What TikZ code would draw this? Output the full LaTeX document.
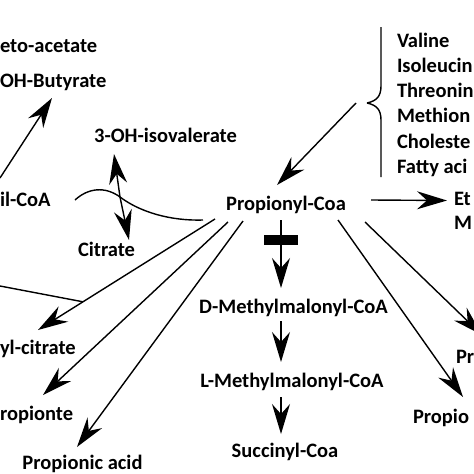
\documentclass[tikz,border=0pt]{standalone}
\usepackage{fontspec}
\setmainfont{Carlito}
\usetikzlibrary{arrows.meta}

\begin{document}
\begin{tikzpicture}[x=1pt,y=-1pt,>={Stealth[length=30pt,width=18pt,inset=10pt]},line join=bevel,line width=1.4pt,
  metab/.style={anchor=base west,inner sep=0pt,outer sep=0pt,text height=13pt,text depth=4pt,font=\bfseries\fontsize{20.5}{23}\selectfont},
  inhib/.style={fill=black,inner sep=0pt,minimum width=34pt,minimum height=10pt}]
%%
\useasboundingbox (0,0) rectangle (474,474);
\clip (0,0) rectangle (474,474);
\node (aceto) at (0,52) [metab] {eto-acetate};
  \node (ohbut) at (0,87) [metab] {OH-Butyrate};
  \node (ohiso) at (165.5,142) [metab,anchor=base] {3-OH-isovalerate};
  \node (acoa) at (0,206) [metab] {il-CoA};
  \node (citr) at (106.5,256) [metab,anchor=base] {Citrate};
  \node (prop) at (286,210) [metab,anchor=base] {Propionyl-Coa};
  \node (dmm) at (293.5,313) [metab,anchor=base] {D-Methylmalonyl-CoA};
  \node (lmm) at (292,387) [metab,anchor=base] {L-Methylmalonyl-CoA};
  \node (succ) at (285,457) [metab,anchor=base] {Succinyl-Coa};
  \node (pcit) at (0,354) [metab] {yl-citrate};
  \node (pnte) at (0,420) [metab] {ropionte};
  \node (pacid) at (82.5,469) [metab,anchor=base] {Propionic acid};
  \node (val) at (397,47) [metab] {Valine};
  \node (ile) at (397,72) [metab] {Isoleucin};
  \node (thr) at (397,97) [metab] {Threonin};
  \node (met) at (397,122) [metab] {Methion};
  \node (chol) at (397,148) [metab] {Choleste};
  \node (fat) at (397,173) [metab] {Fatty aci};
  \node (eth) at (454,205) [metab] {Et};
  \node (mal) at (454,229) [metab] {M};
  \node (pr) at (456,363) [metab] {Pr};
  \node (propio) at (413,423) [metab] {Propio};
  \node (stop) at (281,240) [inhib] {};
  \coordinate (acoa_in) at (0,178);
  \coordinate (cin) at (75,200);
  \coordinate (jn) at (120,197);
  \coordinate (cout) at (203,220);
  \coordinate (brc) at (367,103);
  \coordinate (lft) at (0,286);
%
  \draw [->] (acoa_in) -- ([shift={(52,7)}]ohbut.south west);
  \draw (cin) .. controls (88,188) and (105,186) .. (jn) .. controls (140,212) and (170,221) .. (cout);
  \draw [->] (jn) -- ([shift={(-51.5,8)}]ohiso.south);
  \draw [->] (jn) -- ([shift={(22.5,-3)}]citr.north);
  \draw (381,27) -- (381,86) .. controls (381,97) and (376,101) .. (brc) .. controls (376,105) and (381,109) .. (381,120) -- (381,177);
  \draw [->] ([shift={(-11,0)}]brc) -- ([shift={(-9,-12)}]prop.north);
  \draw [->] ([shift={(85,-10)}]prop.base) -- ([shift={(-7,0)}]eth.west);
  \draw [->] ([shift={(-71,5)}]prop.south) -- ([shift={(38,-11)}]pcit.north west) coordinate [pos=0.746] (mix);
  \draw (lft) -- (mix);
  \draw [->] ([shift={(-58,8)}]prop.south) -- ([shift={(43,-12)}]pnte.north west);
  \draw [->] ([shift={(-43,7)}]prop.south) -- ([shift={(-5.5,-9)}]pacid.north);
  \draw [->,shorten <=6pt,shorten >=12pt] (stop |- prop.south) -- (stop |- dmm.north);
  \draw [->,shorten <=4pt,shorten >=12pt] (stop |- dmm.south) -- (stop |- lmm.north);
  \draw [->,shorten <=6pt,shorten >=10pt] (stop |- lmm.south) -- (stop |- succ.north);
  \draw [->] ([shift={(52,6)}]prop.south) -- ([shift={(50,-13)}]propio.north west);
  \draw [->] ([shift={(79,8)}]prop.south) -- ([shift={(26,-15)}]pr.north west);
%
\end{tikzpicture}
\end{document}
